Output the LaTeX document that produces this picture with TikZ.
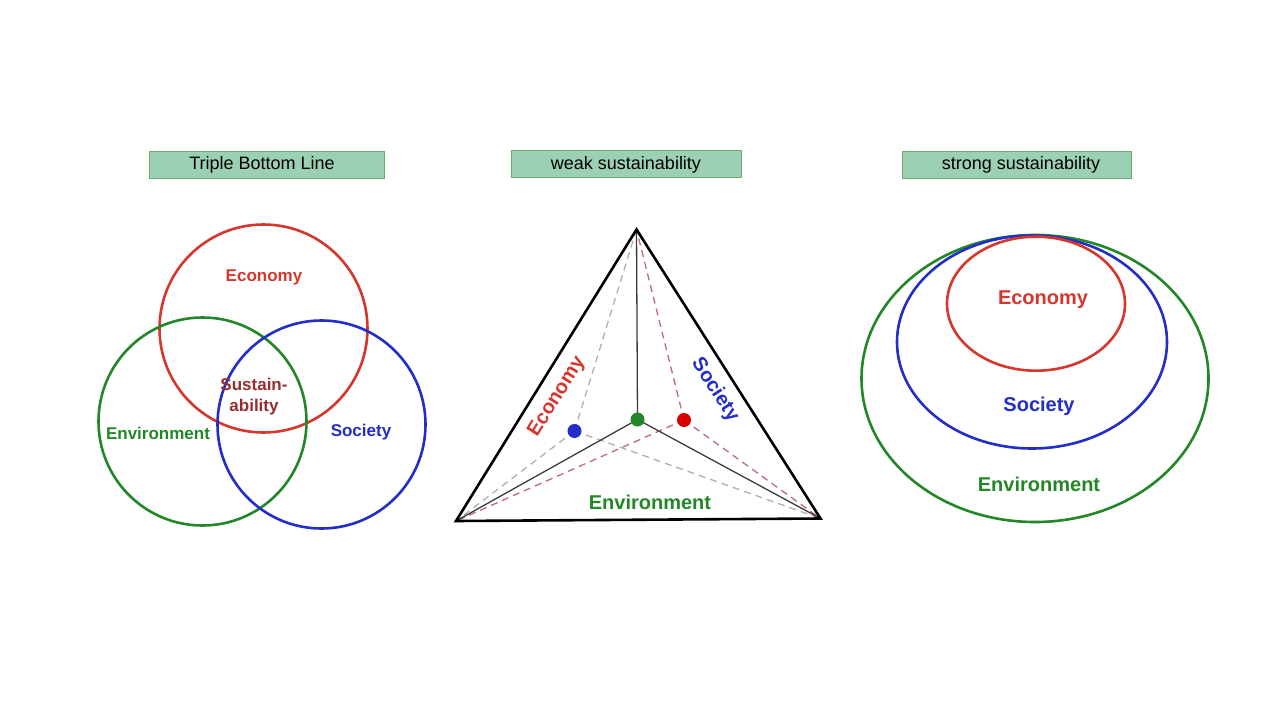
\documentclass[tikz,border=0pt]{standalone}
\usepackage{fontspec}
\setmainfont{Liberation Sans}
\usetikzlibrary{shapes.geometric}
\definecolor{redC}{RGB}{214,55,45}
\definecolor{greenC}{RGB}{35,135,40}
\definecolor{blueC}{RGB}{35,45,200}
\definecolor{sustC}{RGB}{150,45,48}
\definecolor{hdrFill}{RGB}{155,208,180}
\definecolor{hdrLine}{RGB}{110,172,110}
\definecolor{dashGray}{RGB}{175,175,175}
\definecolor{dashRed}{RGB}{190,105,130}
\definecolor{innerC}{RGB}{60,60,60}
\begin{document}
\begin{tikzpicture}[x=1pt,y=-1pt,
  hdr/.style={draw=hdrLine, fill=hdrFill, line width=0.8pt, inner sep=0pt},
  hdrtext/.style={font=\fontsize{18}{20}\selectfont, text=black, inner sep=0pt},
  ring/.style={circle, draw, line width=2.6pt, minimum size=208pt, inner sep=0pt},
  oval/.style={ellipse, draw, line width=2.6pt, inner sep=0pt},
  lab/.style={font=\bfseries\fontsize{17}{21}\selectfont, inner sep=0pt, align=center},
  bigl/.style={font=\bfseries\fontsize{20}{22}\selectfont, inner sep=0pt},
  dot/.style={circle, inner sep=0pt, minimum size=14pt},
  inner/.style={draw=innerC, line width=1.3pt},
  gdash/.style={draw=dashGray, line width=1.3pt, dash pattern=on 7pt off 5pt},
  rdash/.style={draw=dashRed, line width=1.3pt, dash pattern=on 7pt off 5pt}]
\useasboundingbox[fill=white] (0,0) rectangle (1280,720);

% headers
\node[hdr, minimum width=235pt, minimum height=27pt] (h1) at (266.5,164.5) {};
\node[hdrtext] (h1t) at (262,165) {Triple Bottom Line};
\node[hdr, minimum width=230pt, minimum height=27pt] (h2) at (626,164) {};
\node[hdrtext] (h2t) at (626,164.5) {weak sustainability};
\node[hdr, minimum width=229pt, minimum height=27pt] (h3) at (1016.5,164.5) {};
\node[hdrtext] (h3t) at (1021,165) {strong sustainability};

% Venn diagram
\node[ring, draw=redC] (ceco) at (263.5,328.5) {};
\node[ring, draw=greenC] (cenv) at (202.5,421.5) {};
\node[ring, draw=blueC] (csoc) at (321.5,424.5) {};
\node[lab, text=redC] (leco) at (264,277) {Economy};
\node[lab, text=sustC] (lsus) at (254,397) {Sustain-\\ability};
\node[lab, text=greenC] (lenv) at (158,433) {Environment};
\node[lab, text=blueC] (lsoc) at (361,432) {Society};

% weak sustainability triangle
\coordinate (T) at (636.5,229.5);
\coordinate (BL) at (456,521);
\coordinate (BR) at (820.5,518.5);
\coordinate (G) at (637.5,419.5);
\coordinate (B) at (574.5,431);
\coordinate (R) at (684,420);
\draw[gdash] (B) -- (T);
\draw[gdash] (B) -- (BL);
\draw[gdash] (B) -- (BR);
\draw[rdash] (R) -- (T);
\draw[rdash] (R) -- (BL);
\draw[rdash] (R) -- (BR);
\draw[inner] (G) -- (T);
\draw[inner] (G) -- (BL);
\draw[inner] (G) -- (BR);
\draw[black, line width=2.6pt, line join=miter] (T) -- (BR) -- (BL) -- cycle;
\node[dot, fill=blueC] (dB) at (B) {};
\node[dot, fill=greenC] (dG) at (G) {};
\node[dot, fill=red!85!black] (dR) at (R) {};
\node[bigl, text=redC, rotate=58] (teco) at (557,397) {Economy};
\node[bigl, text=blueC, rotate=-57] (tsoc) at (715,390) {Society};
\node[bigl, text=greenC] (tenv) at (650,502) {Environment};

% strong sustainability
\node[oval, draw=greenC, minimum width=347pt, minimum height=287pt] (eenv) at (1035,378.5) {};
\node[oval, draw=blueC, minimum width=270pt, minimum height=213pt] (esoc) at (1032,342) {};
\node[oval, draw=redC, minimum width=178pt, minimum height=134pt] (eeco) at (1036,303.7) {};
\node[bigl, text=redC] (seco) at (1043,300) {Economy};
\node[bigl, text=blueC] (ssoc) at (1039,406.5) {Society};
\node[bigl, text=greenC] (senv) at (1039,484) {Environment};
\end{tikzpicture}
\end{document}
